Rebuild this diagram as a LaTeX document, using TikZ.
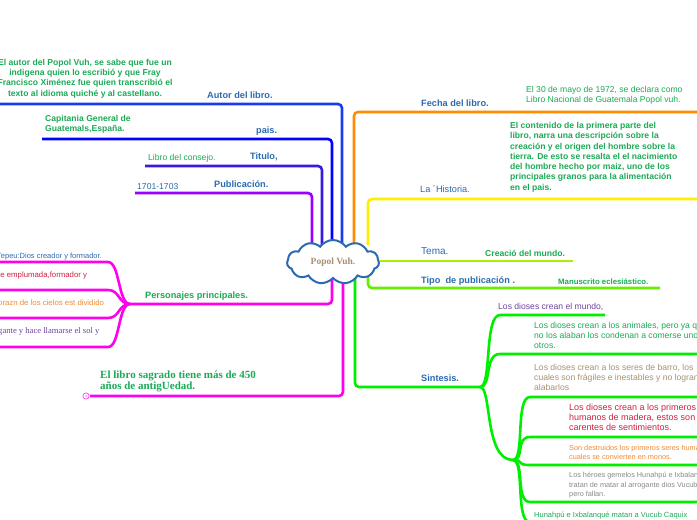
\documentclass[tikz,border=0pt]{standalone}
\usepackage{fontspec}
\setmainfont{Liberation Sans}
\newfontfamily\serifx{Liberation Serif}
\usetikzlibrary{shapes.symbols}
\definecolor{cA}{HTML}{1A3CF0}\definecolor{cB}{HTML}{0000FF}\definecolor{cC}{HTML}{3A1AE0}
\definecolor{cD}{HTML}{9900FF}\definecolor{cM}{HTML}{FF00EE}\definecolor{cO}{HTML}{FF8C00}
\definecolor{cY}{HTML}{FFEE00}\definecolor{cT}{HTML}{AAF000}\definecolor{cG}{HTML}{66EE00}
\definecolor{cS}{HTML}{00EE00}\definecolor{tB}{HTML}{2A6AB0}\definecolor{tG}{HTML}{1AAA55}
\definecolor{tR}{HTML}{D02040}\definecolor{tO}{HTML}{F08A30}\definecolor{tP}{HTML}{7040A0}
\definecolor{tN}{HTML}{A89070}\definecolor{tK}{HTML}{888888}
\begin{document}
\begin{tikzpicture}[x=1pt,y=-1pt,
 ln/.style={line width=2.6pt,rounded corners=4pt},
 cv/.style={line width=2.6pt},
 lab/.style={anchor=base west,inner sep=0pt,font=\fontsize{9.2}{11}\selectfont\bfseries,text=tB},
 txt/.style={anchor=base west,inner sep=0pt,align=left,font=\fontsize{8.6}{10}\selectfont},
 mtxt/.style={anchor=north west,inner sep=0pt,align=left,font=\fontsize{8.6}{10}\selectfont}]
\useasboundingbox (0,0) rectangle (697,520);
\clip (0,0) rectangle (697,520);
% left branches
\draw[ln,cA] (0,104) -- (342,104) -- (342,245);
\draw[ln,cB] (42,139) -- (332,139) -- (332,245);
\draw[ln,cC] (145,166) -- (322,166) -- (322,245);
\draw[ln,cD] (135,193) -- (312,193) -- (312,245);
\draw[ln,cM] (332,270) -- (332,304) -- (130,304);
\foreach \y in {262,290,318,347}{\draw[cv,cM] (130,304) .. controls (118,304) and (120,\y) .. (108,\y) -- (0,\y);}
\draw[ln,cM] (343,270) -- (343,396) -- (90,396);
\node[circle,draw=cM,line width=0.5pt,inner sep=1.3pt,font=\fontsize{3}{3}\selectfont,text=cM] (c4) at (86,396) {4};
% right branches
\draw[ln,cO] (354,245) -- (354,112) -- (697,112);
\draw[ln,cY] (368,245) -- (368,199) -- (697,199);
\draw[cv,cT] (380,261) -- (573,261);
\draw[ln,cG] (368,272) -- (368,288) -- (660,288);
\draw[ln,cS] (355,275) -- (355,387) -- (480,387);
\draw[cv,cS] (480,387) .. controls (492,387) and (484,315) .. (500,315) -- (605,315);
\draw[cv,cS] (480,387) .. controls (492,387) and (484,354) .. (500,354) -- (697,354);
\draw[cv,cS] (480,387) .. controls (492,387) and (484,460) .. (513,460);
\foreach \y in {397,437,465,502,522}{\draw[cv,cS] (513,460) .. controls (525,460) and (515,\y) .. (530,\y) -- (697,\y);}
% cloud
\node[cloud,cloud puffs=11,cloud puff arc=110,aspect=2.2,draw=tB,line width=2pt,fill=white,minimum width=92pt,minimum height=44pt,inner sep=0pt,font=\serifx\fontsize{9.5}{10}\selectfont\bfseries,text=tN] (root) at (333,262) {Popol Vuh.};
% left texts
\node[txt,anchor=north,align=center,text=tG,font=\fontsize{8.6}{10.2}\selectfont\bfseries] (t1) at (85,59) {El autor del Popol Vuh, se sabe que fue un\\indigena quien lo escribió y que Fray\\Francisco Ximénez fue quien transcribió el\\texto al idioma quiché y al castellano.};
\node[lab] (l1) at (207,98) {Autor del libro.};
\node[mtxt,text=tG,font=\fontsize{8.6}{10}\selectfont\bfseries] (t2) at (45,115) {Capitania General de\\Guatemals,España.};
\node[lab] (l2) at (256,133) {pais.};
\node[txt,text=tG] (t3) at (148,160) {Libro del consejo.};
\node[lab] (l3) at (250,159) {Titulo,};
\node[txt,text=tB] (t4) at (137,189) {1701-1703};
\node[lab] (l4) at (214,187) {Publicación.};
\node[txt,text=tB,font=\fontsize{7.5}{8}\selectfont] (p1) at (-3,258) {Tepeu:Dios creador y formador.};
\node[txt,text=tR,font=\fontsize{7.8}{8}\selectfont] (p2) at (-2,277) {te emplumada,formador y};
\node[txt,text=tO,font=\fontsize{7.8}{8}\selectfont] (p3) at (-2,305) {orazn de los cielos est dividido};
\node[txt,text=tP,font=\serifx\fontsize{8.6}{8}\selectfont] (p4) at (-2,333) {gante y hace llamarse el sol y};
\node[lab,text=tG] (l5) at (145,298) {Personajes principales.};
\node[mtxt,text=tG,font=\serifx\fontsize{11}{10.5}\selectfont\bfseries] (t5) at (100,371) {El libro sagrado tiene más de 450\\años de antigUedad.};
% right texts
\node[lab] (r1) at (421,106) {Fecha del libro.};
\node[mtxt,text=tG] (r1t) at (526,86) {El 30 de mayo de 1972, se declara como\\Libro Nacional de Guatemala Popol vuh.};
\node[mtxt,text=tG,font=\fontsize{8.6}{10.3}\selectfont\bfseries] (r2t) at (510,122) {El contenido de la primera parte del\\libro, narra una descripción sobre la\\creación y el origen del hombre sobre la\\tierra. De esto se resalta el el nacimiento\\del hombre hecho por maiz, uno de los\\principales granos para la alimentación\\en el pais.};
\node[txt,text=tB,font=\fontsize{9.2}{9}\selectfont] (r2) at (420,192) {La ´Historia.};
\node[txt,text=tB,font=\fontsize{10}{9}\selectfont] (r3) at (421,254) {Tema.};
\node[txt,text=tG,font=\fontsize{8.6}{9}\selectfont\bfseries] (r3t) at (485,256) {Creació del mundo.};
\node[lab] (r4) at (421,283) {Tipo\ \ de publicación .};
\node[txt,text=tG,font=\fontsize{7.8}{9}\selectfont\bfseries] (r4t) at (558,284) {Manuscrito eclesiástico.};
\node[lab] (r5) at (421,381) {Sintesis.};
\node[txt,text=tP] (s1) at (498,309) {Los dioses crean el mundo,};
\node[mtxt,text=tG] (s2) at (534,322) {Los dioses crean a los animales, pero ya que\\no los alaban los condenan a comerse unos\\otros.};
\node[mtxt,text=tN] (s3) at (534,364) {Los dioses crean a los seres de barro, los\\cuales son frágiles e inestables y no logran\\alabarlos};
\node[mtxt,text=tR,font=\fontsize{9}{10}\selectfont] (s4) at (569,404) {Los dioses crean a los primeros seres\\humanos de madera, estos son inertes\\carentes de sentimientos.};
\node[mtxt,text=tO,font=\fontsize{7.3}{9}\selectfont] (s5) at (569,445) {Son destruidos los primeros seres humanos, los\\cuales se convierten en monos.};
\node[mtxt,text=tK,font=\fontsize{7.3}{9.5}\selectfont] (s6) at (569,472) {Los héroes gemelos Hunahpú e Ixbalanqué\\tratan de matar al arrogante dios Vucub Caquix\\pero fallan.};
\node[txt,text=tG,font=\fontsize{7.5}{9}\selectfont] (s7) at (534,517) {Hunahpú e Ixbalanqué matan a Vucub Caquix};
\end{tikzpicture}
\end{document}
